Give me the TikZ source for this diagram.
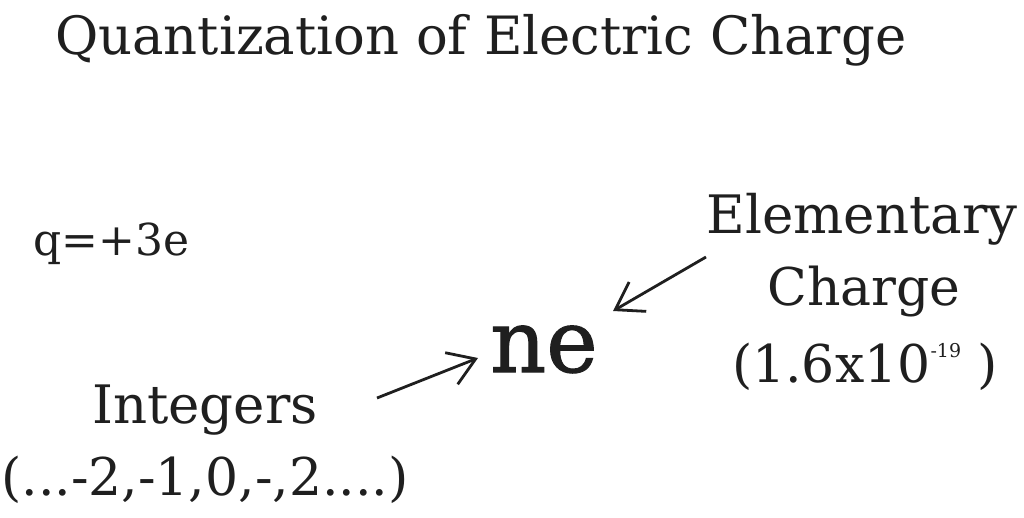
\documentclass[tikz,border=0pt]{standalone}
\usepackage{fontspec}
\setmainfont{DejaVu Serif}
\newfontfamily\nefont[FakeBold=1.2]{DejaVu Serif}
\usetikzlibrary{arrows.meta}
\begin{document}
\begin{tikzpicture}[x=1pt,y=-1pt,
  lbl/.style={inner sep=0pt,anchor=base,text=black!88},
  arr/.style={line width=2.8pt,draw=black!88,-{Straight Barb[length=26pt,width=34pt,line width=2.8pt]}}]
\useasboundingbox (0,0) rectangle (1024,517);
\node[lbl,anchor=base west] (title) at (55,54) {\fontsize{52.8}{72}\selectfont Quantization of Electric Charge};
\node[lbl,anchor=base west] (q) at (33,255) {\fontsize{44}{60}\selectfont q=+3e};
\node[lbl,anchor=base west] (ne) at (490,372) {\nefont\fontsize{87}{120}\selectfont ne};
\node[lbl] (int1) at (205,423) {\fontsize{53}{70}\selectfont Integers};
\node[lbl] (int2) at (205,495) {\fontsize{52}{70}\selectfont (...-2,-1,0,-,2....)};
\node[lbl] (el1) at (862,233) {\fontsize{53}{70}\selectfont Elementary};
\node[lbl] (el2) at (864,305) {\fontsize{52}{70}\selectfont Charge};
\node[lbl] (el3) at (865,382) {\fontsize{52}{70}\selectfont (1.6x10\raisebox{25pt}{\fontsize{19}{22}\selectfont -19} )};
\coordinate (a1s) at (377,398);
\coordinate (a1e) at (478,358);
\coordinate (a2s) at (706,257);
\coordinate (a2e) at (613,311);
\draw[arr] (a1s) -- (a1e);
\draw[arr] (a2s) -- (a2e);
\end{tikzpicture}
\end{document}
